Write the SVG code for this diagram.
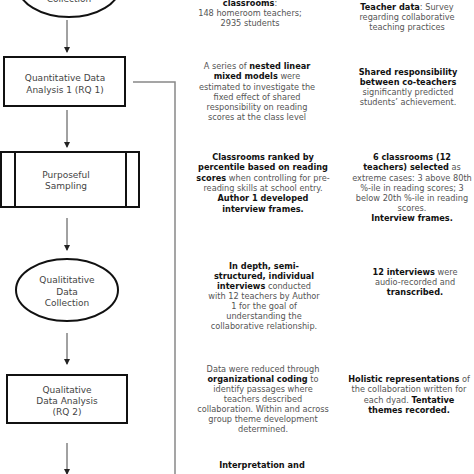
<svg xmlns="http://www.w3.org/2000/svg" width="474" height="474" viewBox="0 0 474 474">
<defs>
<style>
text{font-family:"DejaVu Sans","Verdana",sans-serif;}
.lbl{font-size:9px;fill:#444;text-anchor:middle;}
.t{font-size:8.2px;fill:#555;text-anchor:middle;}
.b{font-weight:bold;fill:#111;}
.shape{fill:#fff;stroke:#111;stroke-width:2;}
.arr{stroke:#444;stroke-width:1;fill:none;}
.side{stroke:#888;stroke-width:1.5;fill:none;}
</style>
<marker id="ah" markerWidth="6" markerHeight="6" refX="5" refY="3" orient="auto" markerUnits="userSpaceOnUse">
<path d="M0,0 L6,3 L0,6 z" fill="#222"/>
</marker>
</defs>
<rect width="474" height="474" fill="#fff"/>

<g id="connectors">
<path class="arr" d="M67,20 V52" marker-end="url(#ah)"/>
<path class="arr" d="M67,110 V147" marker-end="url(#ah)"/>
<path class="arr" d="M67,218 V250" marker-end="url(#ah)"/>
<path class="arr" d="M67,333 V364" marker-end="url(#ah)"/>
<path class="arr" d="M67,443 V474" marker-end="url(#ah)"/>
<path class="side" d="M133,82 H175 V474"/>
</g>

<g id="n1">
<ellipse class="shape" cx="69" cy="-14" rx="51" ry="31"/>
<text class="lbl" x="69" y="2">Collection</text>
</g>

<g id="n2">
<rect class="shape" x="4" y="57" width="121" height="49"/>
<text class="lbl" x="65" y="81">Quantitative Data</text>
<text class="lbl" x="65" y="93">Analysis 1 (RQ 1)</text>
</g>

<g id="n3">
<rect class="shape" x="1" y="152" width="138" height="55"/>
<line x1="15" y1="152" x2="15" y2="207" stroke="#111" stroke-width="2"/>
<line x1="126" y1="152" x2="126" y2="207" stroke="#111" stroke-width="2"/>
<text class="lbl" x="66" y="178">Purposeful</text>
<text class="lbl" x="66" y="189">Sampling</text>
</g>

<g id="n4">
<ellipse class="shape" cx="67" cy="290" rx="51" ry="31"/>
<text class="lbl" x="67" y="283">Qualititative</text>
<text class="lbl" x="67" y="295">Data</text>
<text class="lbl" x="67" y="306">Collection</text>
</g>

<g id="n5">
<rect class="shape" x="7" y="375" width="120" height="48"/>
<text class="lbl" x="67" y="393">Qualitative</text>
<text class="lbl" x="67" y="404">Data Analysis</text>
<text class="lbl" x="67" y="415">(RQ 2)</text>
</g>

<g id="mid1">
<text class="t" x="250" y="6"><tspan class="b">classrooms</tspan>:</text>
<text class="t" x="250" y="16">148 homeroom teachers;</text>
<text class="t" x="250" y="26">2935 students</text>
</g>
<g id="right1">
<text class="t" x="407" y="10"><tspan class="b">Teacher data</tspan>: Survey</text>
<text class="t" x="407" y="20">regarding collaborative</text>
<text class="t" x="407" y="30">teaching practices</text>
</g>

<g id="mid2">
<text class="t" x="257" y="69">A series of <tspan class="b">nested linear</tspan></text>
<text class="t" x="257" y="79"><tspan class="b">mixed models</tspan> were</text>
<text class="t" x="257" y="90">estimated to investigate the</text>
<text class="t" x="257" y="100">fixed effect of shared</text>
<text class="t" x="257" y="110">responsibility on reading</text>
<text class="t" x="257" y="120">scores at the class level</text>
</g>
<g id="right2">
<text class="t b" x="408" y="75">Shared responsibility</text>
<text class="t b" x="408" y="85">between co-teachers</text>
<text class="t" x="408" y="95">significantly predicted</text>
<text class="t" x="408" y="105">students’ achievement.</text>
</g>

<g id="mid3">
<text class="t b" x="263" y="160">Classrooms ranked by</text>
<text class="t b" x="263" y="170">percentile based on reading</text>
<text class="t" x="263" y="181"><tspan class="b">scores</tspan> when controlling for pre-</text>
<text class="t" x="263" y="191">reading skills at school entry.</text>
<text class="t b" x="263" y="201">Author 1 developed</text>
<text class="t b" x="263" y="212">interview frames.</text>
</g>
<g id="right3">
<text class="t b" x="412" y="160">6 classrooms (12</text>
<text class="t" x="412" y="170"><tspan class="b">teachers) selected</tspan> as</text>
<text class="t" x="412" y="181">extreme cases: 3 above 80th</text>
<text class="t" x="412" y="191">%-ile in reading scores; 3</text>
<text class="t" x="412" y="201">below 20th %-ile in reading</text>
<text class="t" x="412" y="211">scores.</text>
<text class="t b" x="412" y="221">Interview frames.</text>
</g>

<g id="mid4">
<text class="t b" x="264" y="269">In depth, semi-</text>
<text class="t b" x="264" y="279">structured, individual</text>
<text class="t" x="264" y="289"><tspan class="b">interviews</tspan> conducted</text>
<text class="t" x="264" y="299">with 12 teachers by Author</text>
<text class="t" x="264" y="309">1 for the goal of</text>
<text class="t" x="264" y="319">understanding the</text>
<text class="t" x="264" y="329">collaborative relationship.</text>
</g>
<g id="right4">
<text class="t" x="415" y="275"><tspan class="b">12 interviews</tspan> were</text>
<text class="t" x="415" y="285">audio-recorded and</text>
<text class="t b" x="415" y="295">transcribed.</text>
</g>

<g id="mid5">
<text class="t" x="263" y="372">Data were reduced through</text>
<text class="t" x="263" y="382"><tspan class="b">organizational coding</tspan> to</text>
<text class="t" x="263" y="392">identify passages where</text>
<text class="t" x="263" y="402">teachers described</text>
<text class="t" x="263" y="412">collaboration. Within and across</text>
<text class="t" x="263" y="422">group theme development</text>
<text class="t" x="263" y="432">determined.</text>
</g>
<g id="right5">
<text class="t" x="409" y="382"><tspan class="b">Holistic representations</tspan> of</text>
<text class="t" x="409" y="392">the collaboration written for</text>
<text class="t" x="409" y="403">each dyad. <tspan class="b">Tentative</tspan></text>
<text class="t b" x="409" y="413">themes recorded.</text>
</g>

<g id="mid6">
<text class="t b" x="262" y="468">Interpretation and</text>
</g>
</svg>
